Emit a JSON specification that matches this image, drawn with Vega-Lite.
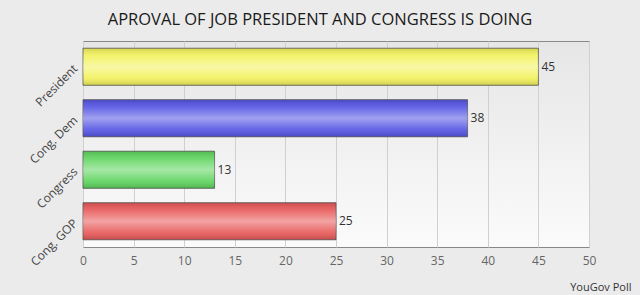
{
  "$schema": "https://vega.github.io/schema/vega-lite/v6.json",
  "width": 506,
  "height": 206,
  "autosize": "none",
  "padding": {"left": 83, "top": 41, "right": 51, "bottom": 48},
  "background": "#ebebeb",
  "title": {
    "text": "APROVAL OF JOB PRESIDENT AND CONGRESS IS DOING",
    "fontSize": 16.5,
    "font": "Open Sans",
    "fontWeight": "normal",
    "color": "#1a1a1a",
    "offset": 13,
    "dx": -16,
    "anchor": "middle"
  },
  "data": {
    "values": [
      {"group": "President", "value": 45},
      {"group": "Cong. Dem", "value": 38},
      {"group": "Congress", "value": 13},
      {"group": "Cong. GOP", "value": 25}
    ]
  },
  "encoding": {
    "y": {
      "field": "group",
      "type": "nominal",
      "sort": null,
      "scale": {"paddingInner": 0.28, "paddingOuter": 0.14},
      "axis": {
        "title": null,
        "labelAngle": -45,
        "labelAlign": "right",
        "labelBaseline": "middle",
        "labelFont": "Open Sans",
        "labelFontSize": 12,
        "labelColor": "#444444",
        "ticks": false,
        "labelPadding": 8,
        "domain": false,
        "grid": false
      }
    },
    "x": {
      "field": "value",
      "type": "quantitative",
      "scale": {"domain": [0, 50], "nice": false},
      "axis": {
        "values": [0, 5, 10, 15, 20, 25, 30, 35, 40, 45, 50],
        "title": "YouGov Poll",
        "titleFont": "Open Sans",
        "titleFontSize": 11,
        "titleFontWeight": "normal",
        "titleColor": "#333333",
        "titleAnchor": null,
        "titleAlign": "right",
        "titleBaseline": "alphabetic",
        "titleX": 548,
        "titleY": 43,
        "labelFont": "Open Sans",
        "labelFontSize": 12,
        "labelColor": "#666666",
        "labelPadding": 8,
        "labelFlush": false,
        "ticks": false,
        "domain": false,
        "grid": true,
        "gridColor": "#d0d0d0"
      }
    }
  },
  "layer": [
    {
      "mark": {"type": "bar", "strokeWidth": 1, "stroke": "#555555", "strokeOpacity": 0.8},
      "encoding": {
        "color": {
          "field": "group",
          "type": "nominal",
          "legend": null,
          "scale": {
            "domain": ["President", "Cong. Dem", "Congress", "Cong. GOP"],
            "range": ["#f2f25c", "#5454e4", "#5ed45e", "#e85858"]
          }
        }
      }
    },
    {
      "mark": {
        "type": "bar",
        "fill": {
          "gradient": "linear",
          "x1": 0, "y1": 0, "x2": 0, "y2": 1,
          "stops": [
            {"offset": 0, "color": "rgba(0,0,0,0.12)"},
            {"offset": 0.2, "color": "rgba(255,255,255,0.1)"},
            {"offset": 0.5, "color": "rgba(255,255,255,0.45)"},
            {"offset": 0.8, "color": "rgba(255,255,255,0.1)"},
            {"offset": 1, "color": "rgba(0,0,0,0.15)"}
          ]
        }
      }
    },
    {
      "mark": {"type": "text", "align": "left", "baseline": "middle", "dx": 3, "font": "Open Sans", "fontSize": 12, "color": "#333333"},
      "encoding": {"text": {"field": "value", "type": "quantitative"}}
    }
  ],
  "config": {
    "view": {
      "stroke": "#888888",
      "strokeWidth": 1,
      "fill": {
        "gradient": "linear",
        "x1": 0, "y1": 0, "x2": 0, "y2": 1,
        "stops": [
          {"offset": 0, "color": "#e6e6e6"},
          {"offset": 1, "color": "#fbfbfb"}
        ]
      }
    }
  }
}
